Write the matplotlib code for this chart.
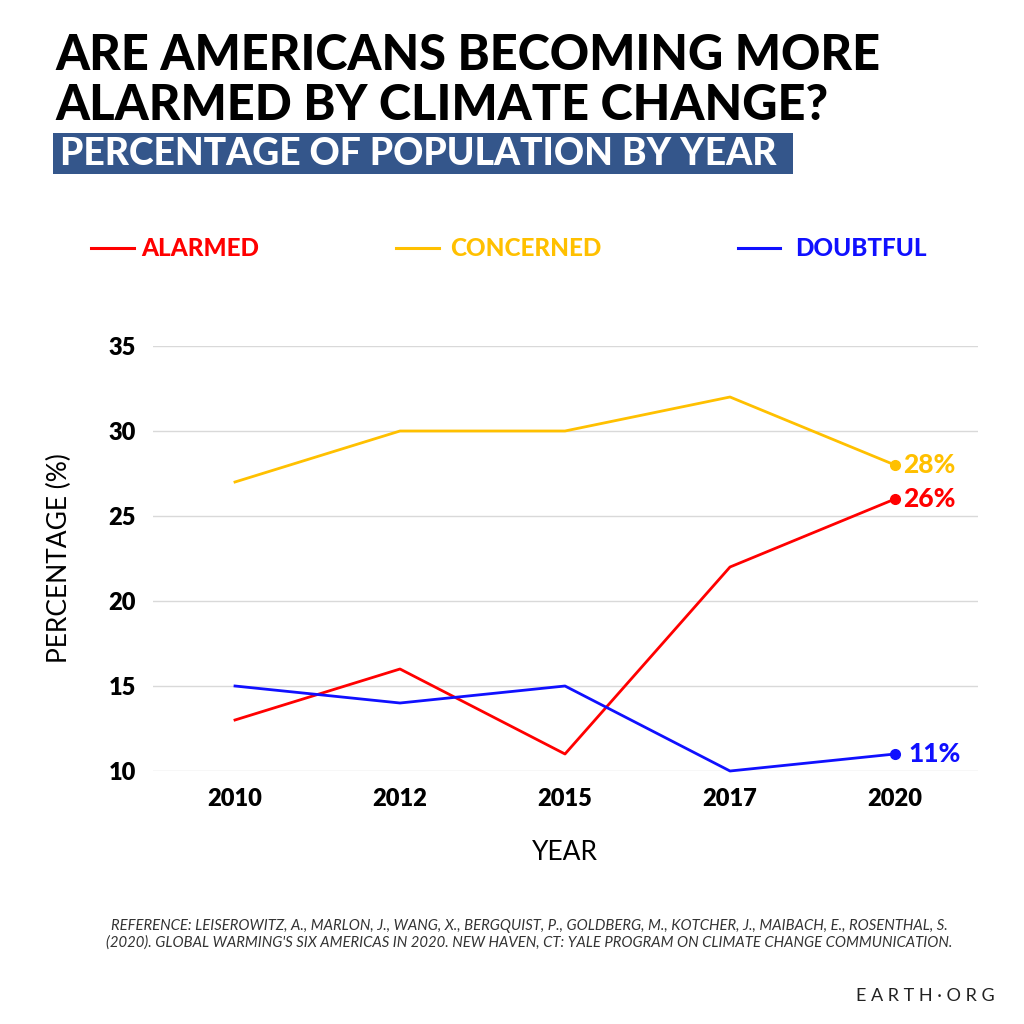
import matplotlib.pyplot as plt
from matplotlib.patches import Rectangle

years = ["2010", "2012", "2015", "2017", "2020"]
alarmed = [13, 16, 11, 22, 26]
concerned = [27, 30, 30, 32, 28]
doubtful = [15, 14, 15, 10, 11]
yticks = [10, 15, 20, 25, 30, 35]

RED = "#ff0000"
GOLD = "#ffc000"
BLUE = "#1010ff"

plt.rcParams['font.family'] = ['Lato', 'DejaVu Sans']

fig = plt.figure(figsize=(10.24, 10.24), dpi=100)
W = 1024.0

def fx(px):
    return px / W

def fy(py):
    return 1 - py / W

# title
fig.text(fx(55), fy(70), "ARE AMERICANS BECOMING MORE", fontsize=35, fontweight='black', color='black', va='baseline')
fig.text(fx(55), fy(120), "ALARMED BY CLIMATE CHANGE?", fontsize=35, fontweight='black', color='black', va='baseline')

# subtitle band
fig.patches.append(Rectangle((fx(53), fy(174)), fx(793 - 53), (174 - 133) / W,
                             transform=fig.transFigure, facecolor="#34568b", edgecolor='none'))
fig.text(fx(60), fy(165), "PERCENTAGE OF POPULATION BY YEAR", fontsize=26.8, fontweight='black', color='white', va='baseline')

# legend
legend_items = [("ALARMED", RED, 91, 134, 141), ("CONCERNED", GOLD, 396, 439, 450), ("DOUBTFUL", BLUE, 738, 780, 795)]
for name, col, x0, x1, xt in legend_items:
    fig.add_artist(plt.Line2D([fx(x0), fx(x1)], [fy(248), fy(248)], transform=fig.transFigure, color=col, lw=2.2))
    fig.text(fx(xt), fy(248), name, fontsize=17.5, fontweight='black', color=col, va='center')

ax = fig.add_axes([fx(152.5), fy(771), fx(825), 425 / W])
x = range(len(years))
ax.plot(x, concerned, color=GOLD, lw=2, clip_on=False, zorder=3)
ax.plot(x, alarmed, color=RED, lw=2, clip_on=False, zorder=3)
ax.plot(x, doubtful, color=BLUE, lw=2, clip_on=False, zorder=3)

ends = [(concerned, GOLD, 0.05), (alarmed, RED, 0.05), (doubtful, BLUE, 0.08)]
for series, col, dx in ends:
    ax.plot(x[-1], series[-1], 'o', color=col, ms=7, clip_on=False, zorder=4)
    ax.text(x[-1] + dx, series[-1], f"{series[-1]}%", color=col, fontsize=19, fontweight='black', va='center', ha='left')

ax.set_xlim(-0.5, 4.5)
ax.set_ylim(10, 35)
ax.set_xticks(list(x))
ax.set_xticklabels(years)
ax.set_yticks(yticks)
ax.grid(axis='y', color='#d9d9d9', lw=1)
ax.set_axisbelow(True)
for s in ax.spines.values():
    s.set_visible(False)
ax.tick_params(length=0, labelsize=17, pad=12)
ax.tick_params(axis='y', pad=12)
for lbl in ax.get_xticklabels() + ax.get_yticklabels():
    lbl.set_fontweight('heavy')
ax.set_xlabel("YEAR", fontsize=19, labelpad=22)
ax.set_ylabel("PERCENTAGE (%)", fontsize=19, labelpad=26)

# footer
fig.text(fx(529), fy(926), "REFERENCE: LEISEROWITZ, A., MARLON, J., WANG, X., BERGQUIST, P., GOLDBERG, M., KOTCHER, J., MAIBACH, E., ROSENTHAL, S.",
         fontsize=10.7, style='italic', color='#333333', ha='center', va='center')
fig.text(fx(529), fy(943), "(2020). GLOBAL WARMING'S SIX AMERICAS IN 2020. NEW HAVEN, CT: YALE PROGRAM ON CLIMATE CHANGE COMMUNICATION.",
         fontsize=10.7, style='italic', color='#333333', ha='center', va='center')
fig.text(fx(995), fy(996), "E A R T H · O R G", fontsize=13, color='#222222', ha='right', va='center')

fig.savefig("out.png", dpi=100, facecolor='white')
